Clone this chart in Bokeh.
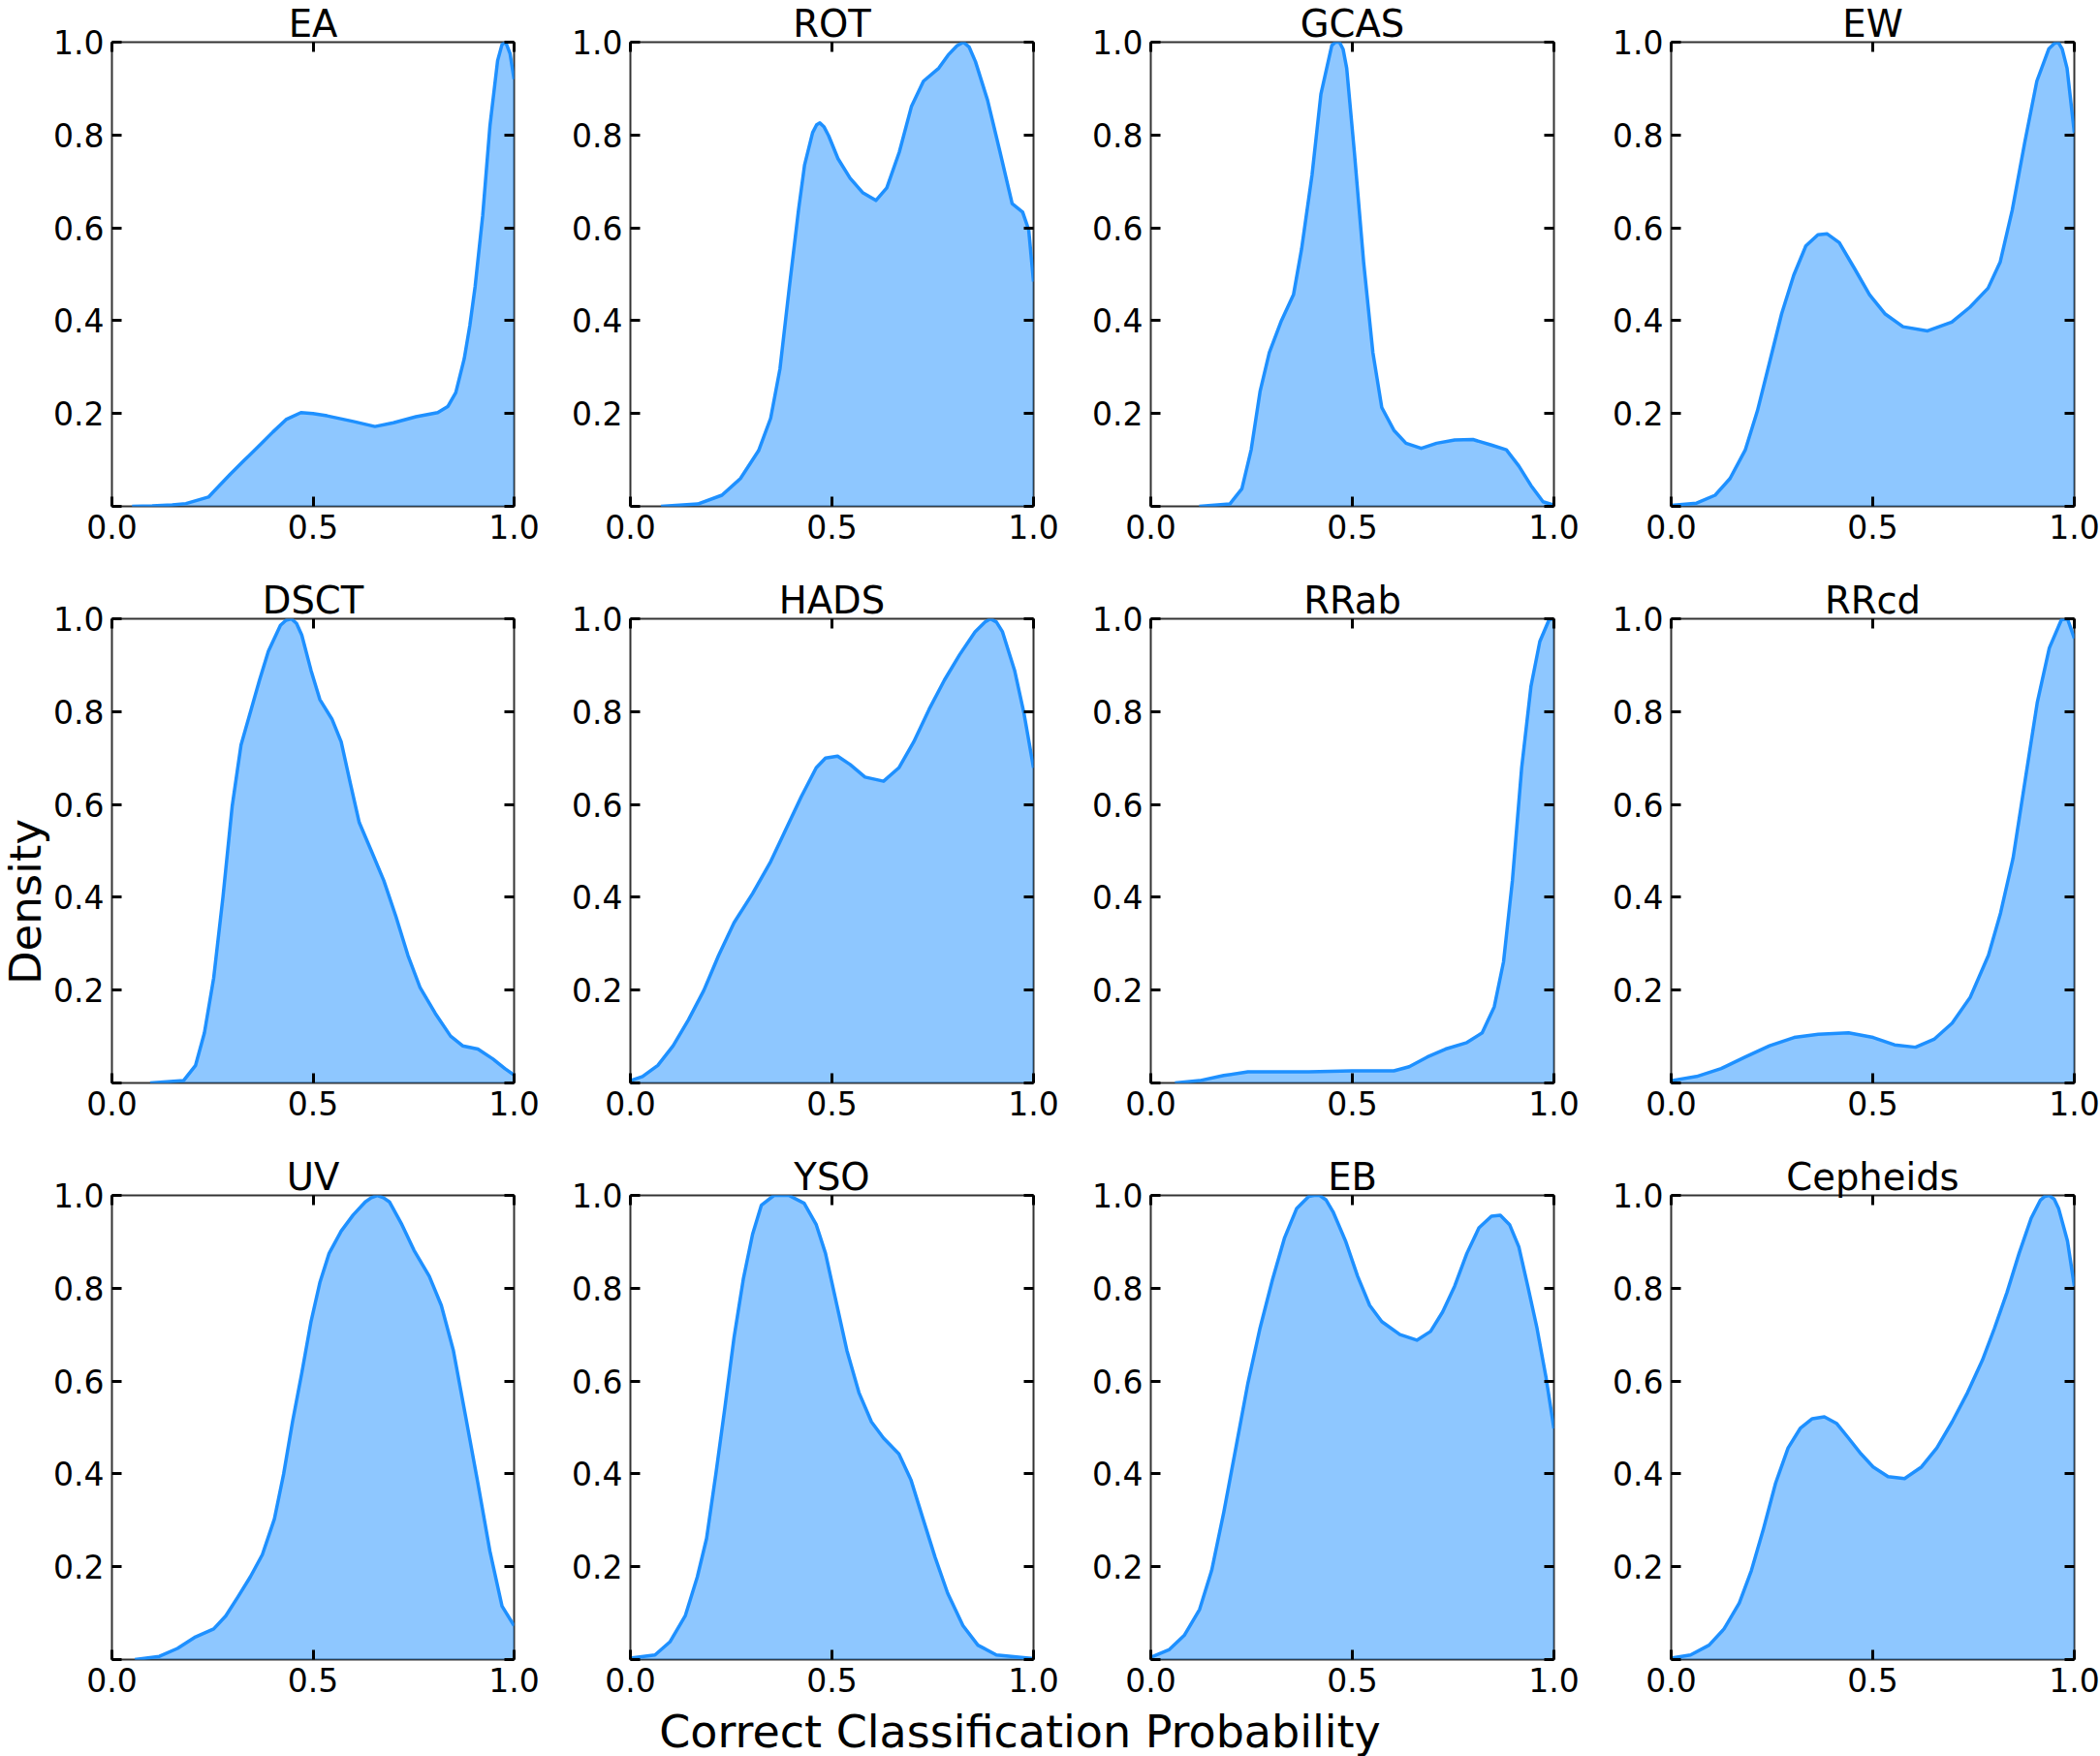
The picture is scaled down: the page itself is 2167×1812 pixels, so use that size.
import math

from bokeh.embed import file_html
from bokeh.layouts import column, gridplot, row
from bokeh.models import FixedTicker, Label, LinearAxis, PrintfTickFormatter, Range1d, Title
from bokeh.plotting import figure
from bokeh.resources import INLINE

# ---- normalised density curves (x = correct classification probability) ----
classes = ["EA", "ROT", "GCAS", "EW", "DSCT", "HADS",
           "RRab", "RRcd", "UV", "YSO", "EB", "Cepheids"]

ea_x = [0.05, 0.10, 0.15, 0.184, 0.24, 0.295, 0.33, 0.369, 0.40, 0.433, 0.47, 0.50,
        0.535, 0.60, 0.654, 0.70, 0.756, 0.81, 0.835, 0.855, 0.876, 0.89, 0.903,
        0.922, 0.94, 0.959, 0.97, 0.979, 0.99, 1.0]
ea_y = [0.000, 0.001, 0.003, 0.006, 0.020, 0.070, 0.100, 0.133, 0.160, 0.187, 0.202,
        0.200, 0.195, 0.183, 0.172, 0.180, 0.193, 0.202, 0.215, 0.245, 0.318, 0.390,
        0.473, 0.627, 0.820, 0.960, 0.995, 1.000, 0.975, 0.920]

rot_x = [0.076, 0.167, 0.227, 0.273, 0.318, 0.348, 0.371, 0.394, 0.417, 0.432, 0.452,
         0.462, 0.47, 0.48, 0.492, 0.515, 0.545, 0.576, 0.609, 0.636, 0.667, 0.697,
         0.727, 0.765, 0.788, 0.81, 0.826, 0.84, 0.856, 0.886, 0.917, 0.947, 0.973,
         0.988, 1.0]
rot_y = [0.000, 0.005, 0.024, 0.060, 0.120, 0.190, 0.296, 0.470, 0.638, 0.735, 0.805,
         0.822, 0.826, 0.818, 0.798, 0.749, 0.707, 0.676, 0.659, 0.686, 0.763, 0.861,
         0.916, 0.944, 0.972, 0.992, 1.000, 0.990, 0.958, 0.875, 0.763, 0.652, 0.634,
         0.596, 0.484]

gcas_x = [0.12, 0.196, 0.226, 0.249, 0.271, 0.294, 0.324, 0.354, 0.374, 0.40, 0.422,
          0.449, 0.458, 0.468, 0.477, 0.486, 0.505, 0.528, 0.551, 0.573, 0.603, 0.633,
          0.671, 0.709, 0.754, 0.799, 0.845, 0.882, 0.913, 0.943, 0.973, 1.0]
gcas_y = [0.000, 0.005, 0.038, 0.122, 0.247, 0.331, 0.400, 0.456, 0.554, 0.714, 0.888,
          0.993, 1.000, 1.000, 0.985, 0.944, 0.763, 0.526, 0.331, 0.213, 0.164, 0.136,
          0.125, 0.136, 0.143, 0.144, 0.132, 0.122, 0.087, 0.045, 0.010, 0.003]

ew_x = [0.0, 0.063, 0.109, 0.146, 0.184, 0.214, 0.244, 0.274, 0.304, 0.334, 0.364,
        0.387, 0.417, 0.455, 0.492, 0.53, 0.575, 0.636, 0.696, 0.741, 0.786, 0.816,
        0.846, 0.877, 0.907, 0.937, 0.95, 0.96, 0.97, 0.982, 1.0]
ew_y = [0.002, 0.007, 0.024, 0.060, 0.122, 0.206, 0.310, 0.415, 0.498, 0.561, 0.585,
        0.587, 0.568, 0.512, 0.456, 0.415, 0.387, 0.378, 0.397, 0.429, 0.470, 0.526,
        0.638, 0.784, 0.916, 0.986, 0.997, 1.000, 0.985, 0.944, 0.805]

dsct_x = [0.095, 0.178, 0.208, 0.23, 0.253, 0.276, 0.299, 0.321, 0.344, 0.367, 0.389,
          0.419, 0.433, 0.446, 0.459, 0.472, 0.495, 0.517, 0.547, 0.57, 0.593, 0.615,
          0.646, 0.676, 0.706, 0.736, 0.766, 0.804, 0.842, 0.872, 0.91, 0.947, 0.977, 1.0]
dsct_y = [0.000, 0.005, 0.038, 0.108, 0.226, 0.400, 0.596, 0.728, 0.798, 0.868, 0.930,
          0.986, 0.997, 1.000, 0.990, 0.965, 0.889, 0.826, 0.784, 0.735, 0.645, 0.561,
          0.498, 0.436, 0.359, 0.275, 0.206, 0.150, 0.101, 0.080, 0.073, 0.052, 0.031, 0.017]

hads_x = [0.0, 0.03, 0.068, 0.106, 0.144, 0.182, 0.219, 0.257, 0.303, 0.348, 0.386,
          0.424, 0.461, 0.484, 0.514, 0.545, 0.582, 0.628, 0.666, 0.703, 0.741, 0.779,
          0.817, 0.855, 0.88, 0.893, 0.908, 0.923, 0.953, 0.976, 1.0]
hads_y = [0.005, 0.014, 0.038, 0.080, 0.136, 0.199, 0.275, 0.345, 0.408, 0.477, 0.547,
          0.617, 0.679, 0.700, 0.704, 0.686, 0.659, 0.650, 0.679, 0.735, 0.805, 0.868,
          0.923, 0.972, 0.993, 1.000, 0.993, 0.972, 0.889, 0.798, 0.679]

rrab_x = [0.06, 0.121, 0.181, 0.241, 0.302, 0.392, 0.498, 0.603, 0.641, 0.686, 0.731,
          0.784, 0.822, 0.852, 0.875, 0.897, 0.92, 0.943, 0.965, 0.988, 1.0]
rrab_y = [0.000, 0.005, 0.016, 0.024, 0.024, 0.024, 0.026, 0.026, 0.035, 0.056, 0.073,
          0.087, 0.108, 0.164, 0.261, 0.436, 0.679, 0.854, 0.951, 0.998, 1.000]

rrcd_x = [0.0, 0.063, 0.124, 0.184, 0.244, 0.305, 0.365, 0.44, 0.501, 0.554, 0.606,
          0.652, 0.697, 0.742, 0.787, 0.817, 0.848, 0.878, 0.908, 0.938, 0.968, 0.983, 1.0]
rrcd_y = [0.005, 0.014, 0.031, 0.056, 0.080, 0.098, 0.105, 0.108, 0.098, 0.082, 0.077,
          0.094, 0.129, 0.185, 0.275, 0.366, 0.484, 0.652, 0.819, 0.937, 0.998, 1.000, 0.958]

uv_x = [0.057, 0.118, 0.163, 0.208, 0.253, 0.283, 0.314, 0.344, 0.374, 0.404, 0.427,
        0.449, 0.472, 0.495, 0.517, 0.54, 0.57, 0.60, 0.63, 0.645, 0.66, 0.675, 0.69,
        0.721, 0.751, 0.789, 0.819, 0.849, 0.879, 0.91, 0.94, 0.97, 1.0]
uv_y = [0.000, 0.007, 0.024, 0.049, 0.066, 0.094, 0.136, 0.178, 0.226, 0.303, 0.400,
        0.512, 0.617, 0.728, 0.812, 0.875, 0.923, 0.958, 0.986, 0.995, 1.000, 0.995,
        0.986, 0.937, 0.882, 0.826, 0.763, 0.666, 0.526, 0.380, 0.233, 0.115, 0.073]

yso_x = [0.0, 0.061, 0.098, 0.136, 0.166, 0.189, 0.212, 0.234, 0.257, 0.28, 0.303,
         0.325, 0.356, 0.393, 0.431, 0.461, 0.484, 0.507, 0.537, 0.567, 0.598, 0.628,
         0.666, 0.696, 0.726, 0.756, 0.787, 0.825, 0.862, 0.908, 1.0]
yso_y = [0.003, 0.010, 0.038, 0.094, 0.178, 0.261, 0.400, 0.540, 0.693, 0.819, 0.916,
         0.979, 1.000, 1.000, 0.983, 0.937, 0.875, 0.784, 0.666, 0.575, 0.512, 0.477,
         0.443, 0.387, 0.303, 0.220, 0.143, 0.073, 0.031, 0.010, 0.002]

eb_x = [0.0, 0.045, 0.083, 0.121, 0.151, 0.181, 0.211, 0.241, 0.271, 0.302, 0.332,
        0.362, 0.392, 0.405, 0.419, 0.435, 0.452, 0.483, 0.513, 0.543, 0.573, 0.618,
        0.66, 0.694, 0.724, 0.754, 0.784, 0.814, 0.845, 0.867, 0.89, 0.913, 0.935,
        0.958, 0.98, 1.0]
eb_y = [0.005, 0.021, 0.052, 0.108, 0.192, 0.317, 0.456, 0.596, 0.714, 0.819, 0.909,
        0.972, 0.998, 1.000, 1.000, 0.990, 0.965, 0.902, 0.826, 0.763, 0.728, 0.700,
        0.688, 0.707, 0.749, 0.805, 0.875, 0.930, 0.955, 0.957, 0.937, 0.889, 0.805,
        0.714, 0.610, 0.498]

ceph_x = [0.0, 0.048, 0.094, 0.131, 0.169, 0.199, 0.229, 0.259, 0.29, 0.32, 0.35,
          0.38, 0.41, 0.44, 0.471, 0.501, 0.538, 0.579, 0.621, 0.659, 0.697, 0.735,
          0.772, 0.802, 0.833, 0.863, 0.893, 0.916, 0.927, 0.938, 0.95, 0.961, 0.983, 1.0]
ceph_y = [0.003, 0.010, 0.031, 0.066, 0.122, 0.192, 0.282, 0.380, 0.456, 0.498, 0.519,
          0.523, 0.509, 0.477, 0.443, 0.415, 0.394, 0.390, 0.415, 0.456, 0.512, 0.575,
          0.645, 0.714, 0.791, 0.875, 0.951, 0.990, 0.998, 1.000, 0.992, 0.972, 0.902, 0.805]

curves = [(ea_x, ea_y), (rot_x, rot_y), (gcas_x, gcas_y), (ew_x, ew_y),
          (dsct_x, dsct_y), (hads_x, hads_y), (rrab_x, rrab_y), (rrcd_x, rrcd_y),
          (uv_x, uv_y), (yso_x, yso_y), (eb_x, eb_y), (ceph_x, ceph_y)]

x_ticks = [0.0, 0.5, 1.0]
y_ticks = [0.0, 0.2, 0.4, 0.6, 0.8, 1.0]

# ---- page geometry (pixels) ----
FONT = "DejaVu Sans"
LINE = "#1E90FF"
LEFT_STRIP = 52
FRAME_W, FRAME_H = 416, 479
col_left = [114 - LEFT_STRIP, 90, 91, 91]
col_right = [30, 30, 30, 27]
row_top = [43, 43, 43]
row_bottom = [73, 73, 46]
GRID_H = sum(row_top) + 3 * FRAME_H + sum(row_bottom)
BOTTOM_STRIP = 1812 - GRID_H


def style_axis(ax, ticks, labels=True):
    ax.ticker = FixedTicker(ticks=ticks)
    ax.axis_line_color = None
    ax.major_tick_in = 10
    ax.major_tick_out = 0
    ax.major_tick_line_width = 3
    ax.major_tick_line_color = "black"
    ax.minor_tick_line_color = None
    if labels:
        ax.formatter = PrintfTickFormatter(format="%.1f")
        ax.major_label_text_font = FONT
        ax.major_label_text_font_size = "33px"
        ax.major_label_text_color = "black"
        ax.major_label_standoff = 8
    else:
        # mirrored tick marks only
        ax.major_label_text_font_size = "1px"
        ax.major_label_text_color = None
        ax.major_label_standoff = 0


rows = []
for r in range(3):
    row_figs = []
    for c in range(4):
        k = r * 4 + c
        xs, ys = curves[k]
        w = col_left[c] + FRAME_W + col_right[c]
        h = row_top[r] + FRAME_H + row_bottom[r]
        p = figure(width=w, height=h, x_range=Range1d(0, 1), y_range=Range1d(0, 1),
                   output_backend="svg", toolbar_location=None,
                   min_border_left=col_left[c], min_border_right=col_right[c],
                   min_border_top=row_top[r], min_border_bottom=row_bottom[r])
        p.grid.visible = False
        p.outline_line_color = "#333333"
        p.outline_line_width = 2
        p.background_fill_color = "white"
        p.border_fill_color = "white"

        style_axis(p.xaxis[0], x_ticks)
        style_axis(p.yaxis[0], y_ticks)
        p.yaxis[0].major_label_overrides = {0: ""}

        top_ax = LinearAxis()
        style_axis(top_ax, x_ticks, labels=False)
        p.add_layout(top_ax, "above")
        right_ax = LinearAxis()
        style_axis(right_ax, y_ticks, labels=False)
        p.add_layout(right_ax, "right")

        p.add_layout(Title(text=classes[k], align="center", standoff=-6,
                           text_font=FONT, text_font_size="38.5px",
                           text_font_style="normal", text_color="black"), "above")

        p.varea(x=xs, y1=[0.0] * len(xs), y2=ys, fill_color=LINE, fill_alpha=0.5)
        p.line(xs, ys, line_color=LINE, line_width=3.5, line_join="round")
        row_figs.append(p)
    rows.append(row_figs)

grid = gridplot(rows, toolbar_location=None)


def strip_figure(w, h):
    s = figure(width=w, height=h, x_range=Range1d(0, w), y_range=Range1d(0, h),
               output_backend="svg", toolbar_location=None, min_border=0,
               x_axis_location=None, y_axis_location=None)
    s.grid.visible = False
    s.outline_line_color = None
    return s


# shared y-axis title
left = strip_figure(LEFT_STRIP, GRID_H)
left.add_layout(Label(x=26, y=GRID_H - 930, text="Density", angle=math.pi / 2,
                      text_align="center", text_baseline="middle",
                      text_font=FONT, text_font_size="45px", text_color="black"))

# shared x-axis title
bottom = strip_figure(2167, BOTTOM_STRIP)
bottom.add_layout(Label(x=1052, y=BOTTOM_STRIP - (1786 - GRID_H),
                        text="Correct Classification Probability",
                        text_align="center", text_baseline="middle",
                        text_font=FONT, text_font_size="46px", text_color="black"))

page = column(row(left, grid, spacing=0), bottom, spacing=0)
open("out.html", "w").write(file_html(page, INLINE))
